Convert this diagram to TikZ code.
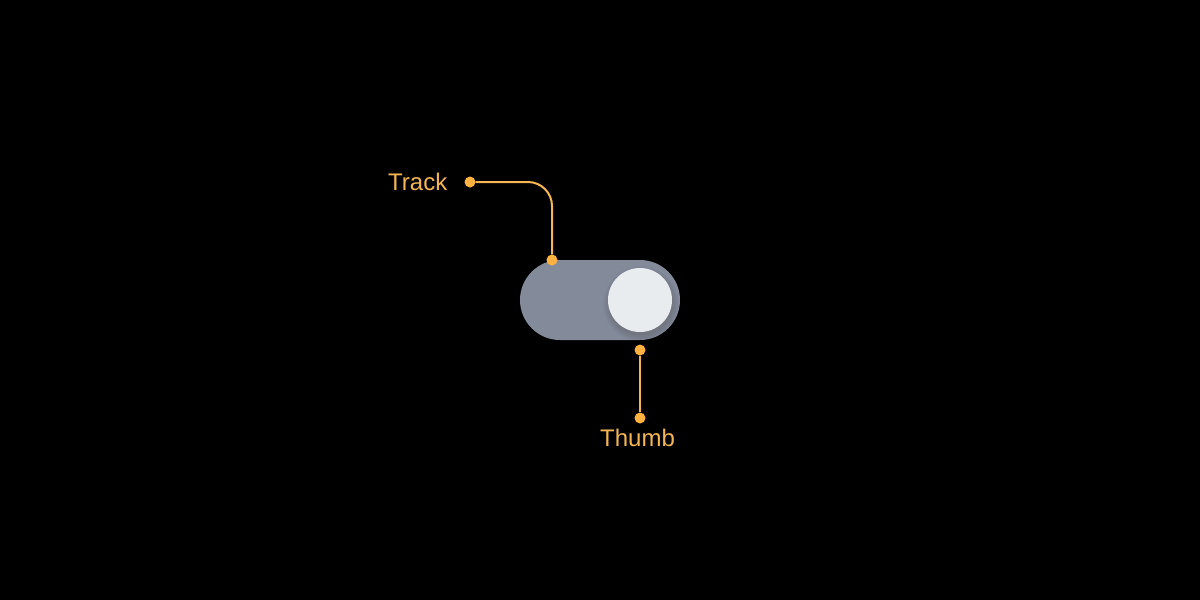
\documentclass[tikz,border=0pt]{standalone}
\usepackage{fontspec}
\setmainfont{Liberation Sans}
\definecolor{trackc}{HTML}{838A99}
\definecolor{thumbc}{HTML}{E9ECEF}
\definecolor{accent}{HTML}{FFB23F}
\definecolor{linec}{HTML}{F7B655}
\definecolor{labelc}{HTML}{F5B555}
\tikzset{
  dotnode/.style={circle,fill=accent,draw=none,minimum size=11pt,inner sep=0pt},
  leader/.style={draw=linec,line width=2pt},
  lbl/.style={text=labelc,font=\fontsize{24}{28}\selectfont,inner sep=0pt,anchor=base west},
  trackshape/.style={fill=trackc,draw=none,rounded corners=40pt},
  thumbshape/.style={circle,fill=thumbc,draw=none,minimum size=64pt,inner sep=0pt}
}
\begin{document}
\begin{tikzpicture}[x=1pt,y=-1pt]
\useasboundingbox (0,0) rectangle (1200,600);
\fill[black] (0,0) rectangle (1200,600);
\fill[trackshape] (520,260) rectangle (680,340);
\begin{scope}
\clip[rounded corners=40pt] (520,260) rectangle (680,340);
\foreach \r in {38,37,...,31}{
  \fill[black,opacity=0.016] (641,304) circle[radius=\r];
}
\end{scope}
\node[thumbshape] (thumb) at (640,300) {};
\node[dotnode] (d1) at (470,182) {};
\node[dotnode] (d2) at (552,260) {};
\node[dotnode] (d3) at (640,350) {};
\node[dotnode] (d4) at (640,418) {};
\draw[leader] (d1.east) -- (528,182) arc[start angle=90,end angle=0,x radius=24,y radius=-24] -- (d2.north);
\draw[leader] (d3.south) -- (d4.north);
\node[lbl] (track) at (388,190) {Track};
\node[lbl] (thumblabel) at (600,446) {Thumb};
\end{tikzpicture}
\end{document}
